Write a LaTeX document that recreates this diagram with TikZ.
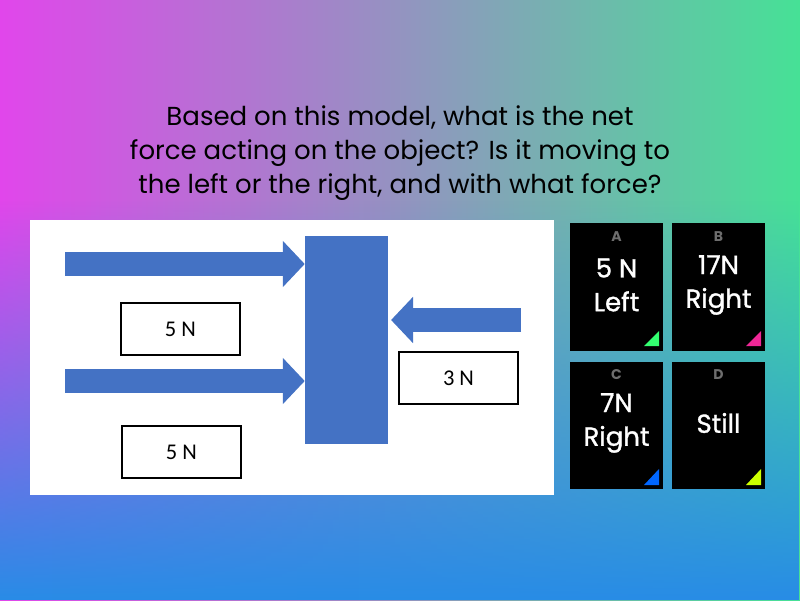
\documentclass[tikz,border=0pt]{standalone}
\usepackage{fontspec}
\setmainfont{Poppins}
\newfontfamily\boxfont{Carlito}
\newfontfamily\cardfont{Poppins}[FakeBold=1.2]
\usetikzlibrary{arrows.meta,fadings}
\definecolor{forceblue}{RGB}{68,114,196}
\definecolor{bgpink}{RGB}{225,70,235}
\definecolor{bggreen}{RGB}{70,225,150}
\definecolor{bgblue}{RGB}{40,140,230}
\definecolor{letgray}{RGB}{110,110,110}
\tikzset{
  force/.style={draw=forceblue, line width=16.4pt, -{Triangle[length=15.6pt,width=32pt]}},
  label box/.style={draw, line width=1.2pt, fill=white, minimum width=85pt, minimum height=37pt, font=\boxfont\fontsize{16}{18}\selectfont},
  card/.style={fill=black, minimum width=66pt, minimum height=91pt, inner sep=0pt},
  card text/.style={text=white, align=center, font=\cardfont\fontsize{18.5}{24}\selectfont},
  card letter/.style={text=letgray, font=\bfseries\fontsize{10}{12}\selectfont},
}
\begin{document}
\begin{tikzpicture}[x=0.025cm, y=-0.025cm]
    % sfondo
    \useasboundingbox (0,0) rectangle (800,600);
    \shade[left color=bgpink, right color=bggreen] (0,0) rectangle (800,600);
    \fill[bgblue, path fading=north] (0,200) rectangle (800,600);

    % domanda
    \node[align=center, font=\fontsize{18.5}{24.2}\selectfont] (question) at (400,153)
      {Based on this model, what is the net\\force acting on the object? Is it moving to\\the left or the right, and with what force?};

    % modello delle forze
    \fill[white] (30,220) rectangle (554,495);
    \node[fill=forceblue, minimum width=59pt, minimum height=148pt, inner sep=0pt] (block) at (346.5,340) {};
    \coordinate (f_top) at (65,264);
    \coordinate (f_bottom) at (65,381);
    \coordinate (f_right) at (521,320);
    \draw[force] (f_top) -- (f_top -| block.west);
    \draw[force] (f_bottom) -- (f_bottom -| block.west);
    \draw[force] (f_right) -- ([xshift=2pt]f_right -| block.east);
    \node[label box] (lbl_top) at (180.5,329) {5 N};
    \node[label box] (lbl_bottom) at (181.5,452) {5 N};
    \node[label box] (lbl_right) at (458.5,378) {3 N};

    % risposte
    \node[card] (card_a) at (616.5,287) {};
    \node[card] (card_b) at (718.5,287) {};
    \node[card] (card_c) at (616.5,425.5) {};
    \node[card] (card_d) at (718.5,425.5) {};
    \node[card letter] at (616.5,237) {A};
    \node[card letter] at (718.5,237) {B};
    \node[card letter] at (616.5,375) {C};
    \node[card letter] at (718.5,375) {D};
    \node[card text] (txt_a) at (616.5,285) {5 N\\Left};
    \node[card text] (txt_b) at (718.5,285) {17N\\Right};
    \node[card text] (txt_c) at (616.5,423) {7N\\Right};
    \node[card text] (txt_d) at (718.5,423) {Still};
    \fill[green!70!cyan!80!white] (659,331) -- (659,346) -- (644,346) -- cycle;
    \fill[magenta!80!pink] (761,331) -- (761,346) -- (746,346) -- cycle;
    \fill[blue!60!cyan] (659,469) -- (659,485) -- (644,485) -- cycle;
    \fill[lime!80!yellow] (761,469) -- (761,485) -- (746,485) -- cycle;
\end{tikzpicture}
\end{document}
